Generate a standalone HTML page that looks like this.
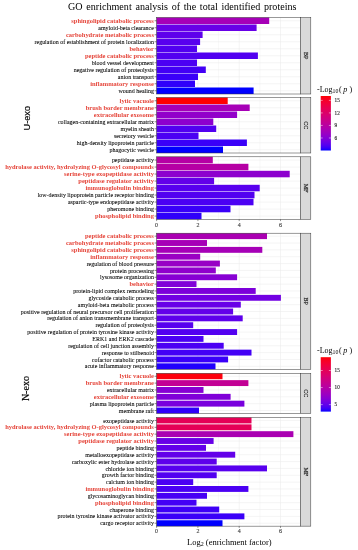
<!DOCTYPE html>
<html><head><meta charset="utf-8"><style>html,body{margin:0;padding:0;background:#fff;}
svg{display:block;will-change:transform;}
text{font-family:"Liberation Serif",serif;}
.lb{font-size:6.4px;fill:#000;stroke:#000;stroke-width:0.06px;text-anchor:end;}
.lr{font-size:6.7px;fill:#e5453a;font-weight:bold;text-anchor:end;}
.st{font-size:6px;fill:#1a1a1a;stroke:#1a1a1a;stroke-width:0.18px;}
.tk{font-size:6px;fill:#333;stroke:#333;stroke-width:0.1px;}
.ti{font-size:10.1px;fill:#000;word-spacing:1.2px;}
.ax{font-size:8.5px;fill:#000;}
.lt{font-size:8px;fill:#000;}
.lg{font-size:5.2px;fill:#222;stroke:#222;stroke-width:0.12px;}
.yu{font-family:"Liberation Sans",sans-serif;font-size:9.2px;fill:#000;stroke:#000;stroke-width:0.15px;}
.yn{font-size:10px;fill:#000;stroke:#000;stroke-width:0.2px;}
</style></head>
<body><svg width="358" height="550" viewBox="0 0 358 550">
<rect width="358" height="550" fill="#fff"/>
<defs><linearGradient id="g1" x1="0" y1="0" x2="0" y2="1"><stop offset="0.000" stop-color="#ff0000"/><stop offset="0.025" stop-color="#fc0012"/><stop offset="0.050" stop-color="#fa001e"/><stop offset="0.075" stop-color="#f70027"/><stop offset="0.100" stop-color="#f5002f"/><stop offset="0.125" stop-color="#f20037"/><stop offset="0.150" stop-color="#ef003e"/><stop offset="0.175" stop-color="#ec0045"/><stop offset="0.200" stop-color="#e9004c"/><stop offset="0.225" stop-color="#e70053"/><stop offset="0.250" stop-color="#e40059"/><stop offset="0.275" stop-color="#e00060"/><stop offset="0.300" stop-color="#dd0066"/><stop offset="0.325" stop-color="#da006c"/><stop offset="0.350" stop-color="#d70073"/><stop offset="0.375" stop-color="#d30079"/><stop offset="0.400" stop-color="#cf007f"/><stop offset="0.425" stop-color="#cc0085"/><stop offset="0.450" stop-color="#c8008b"/><stop offset="0.475" stop-color="#c40091"/><stop offset="0.500" stop-color="#c00097"/><stop offset="0.525" stop-color="#bb009d"/><stop offset="0.550" stop-color="#b700a3"/><stop offset="0.575" stop-color="#b200a9"/><stop offset="0.600" stop-color="#ad00af"/><stop offset="0.625" stop-color="#a800b5"/><stop offset="0.650" stop-color="#a200bb"/><stop offset="0.675" stop-color="#9d00c0"/><stop offset="0.700" stop-color="#9700c6"/><stop offset="0.725" stop-color="#9000cb"/><stop offset="0.750" stop-color="#8a00d1"/><stop offset="0.775" stop-color="#8200d6"/><stop offset="0.800" stop-color="#7b00dc"/><stop offset="0.825" stop-color="#7200e1"/><stop offset="0.850" stop-color="#6900e6"/><stop offset="0.875" stop-color="#5f00eb"/><stop offset="0.900" stop-color="#5400f0"/><stop offset="0.925" stop-color="#4700f4"/><stop offset="0.950" stop-color="#3800f8"/><stop offset="0.975" stop-color="#2300fc"/><stop offset="1.000" stop-color="#0000ff"/></linearGradient><linearGradient id="g2" x1="0" y1="0" x2="0" y2="1"><stop offset="0.000" stop-color="#ff0000"/><stop offset="0.025" stop-color="#fc0012"/><stop offset="0.050" stop-color="#fa001e"/><stop offset="0.075" stop-color="#f70027"/><stop offset="0.100" stop-color="#f5002f"/><stop offset="0.125" stop-color="#f20037"/><stop offset="0.150" stop-color="#ef003e"/><stop offset="0.175" stop-color="#ec0045"/><stop offset="0.200" stop-color="#e9004c"/><stop offset="0.225" stop-color="#e70053"/><stop offset="0.250" stop-color="#e40059"/><stop offset="0.275" stop-color="#e00060"/><stop offset="0.300" stop-color="#dd0066"/><stop offset="0.325" stop-color="#da006c"/><stop offset="0.350" stop-color="#d70073"/><stop offset="0.375" stop-color="#d30079"/><stop offset="0.400" stop-color="#cf007f"/><stop offset="0.425" stop-color="#cc0085"/><stop offset="0.450" stop-color="#c8008b"/><stop offset="0.475" stop-color="#c40091"/><stop offset="0.500" stop-color="#c00097"/><stop offset="0.525" stop-color="#bb009d"/><stop offset="0.550" stop-color="#b700a3"/><stop offset="0.575" stop-color="#b200a9"/><stop offset="0.600" stop-color="#ad00af"/><stop offset="0.625" stop-color="#a800b5"/><stop offset="0.650" stop-color="#a200bb"/><stop offset="0.675" stop-color="#9d00c0"/><stop offset="0.700" stop-color="#9700c6"/><stop offset="0.725" stop-color="#9000cb"/><stop offset="0.750" stop-color="#8a00d1"/><stop offset="0.775" stop-color="#8200d6"/><stop offset="0.800" stop-color="#7b00dc"/><stop offset="0.825" stop-color="#7200e1"/><stop offset="0.850" stop-color="#6900e6"/><stop offset="0.875" stop-color="#5f00eb"/><stop offset="0.900" stop-color="#5400f0"/><stop offset="0.925" stop-color="#4700f4"/><stop offset="0.950" stop-color="#3800f8"/><stop offset="0.975" stop-color="#2300fc"/><stop offset="1.000" stop-color="#0000ff"/></linearGradient></defs>
<text x="68" y="10.4" class="ti">GO enrichment analysis of the total identified proteins</text>
<rect x="156.6" y="17.5" width="143.7" height="76.5" fill="#fff"/>
<line x1="156.6" y1="17.5" x2="156.6" y2="94" stroke="#ebebeb" stroke-width="0.55"/>
<line x1="177.25" y1="17.5" x2="177.25" y2="94" stroke="#ebebeb" stroke-width="0.3"/>
<line x1="197.9" y1="17.5" x2="197.9" y2="94" stroke="#ebebeb" stroke-width="0.55"/>
<line x1="218.55" y1="17.5" x2="218.55" y2="94" stroke="#ebebeb" stroke-width="0.3"/>
<line x1="239.2" y1="17.5" x2="239.2" y2="94" stroke="#ebebeb" stroke-width="0.55"/>
<line x1="259.85" y1="17.5" x2="259.85" y2="94" stroke="#ebebeb" stroke-width="0.3"/>
<line x1="280.5" y1="17.5" x2="280.5" y2="94" stroke="#ebebeb" stroke-width="0.55"/>
<line x1="156.6" y1="20.75" x2="300.3" y2="20.75" stroke="#ebebeb" stroke-width="0.55"/>
<line x1="156.6" y1="27.75" x2="300.3" y2="27.75" stroke="#ebebeb" stroke-width="0.55"/>
<line x1="156.6" y1="34.75" x2="300.3" y2="34.75" stroke="#ebebeb" stroke-width="0.55"/>
<line x1="156.6" y1="41.75" x2="300.3" y2="41.75" stroke="#ebebeb" stroke-width="0.55"/>
<line x1="156.6" y1="48.75" x2="300.3" y2="48.75" stroke="#ebebeb" stroke-width="0.55"/>
<line x1="156.6" y1="55.75" x2="300.3" y2="55.75" stroke="#ebebeb" stroke-width="0.55"/>
<line x1="156.6" y1="62.75" x2="300.3" y2="62.75" stroke="#ebebeb" stroke-width="0.55"/>
<line x1="156.6" y1="69.75" x2="300.3" y2="69.75" stroke="#ebebeb" stroke-width="0.55"/>
<line x1="156.6" y1="76.75" x2="300.3" y2="76.75" stroke="#ebebeb" stroke-width="0.55"/>
<line x1="156.6" y1="83.75" x2="300.3" y2="83.75" stroke="#ebebeb" stroke-width="0.55"/>
<line x1="156.6" y1="90.75" x2="300.3" y2="90.75" stroke="#ebebeb" stroke-width="0.55"/>
<rect x="156.6" y="17.5" width="112.6" height="6.5" fill="#a600b7"/>
<rect x="156.6" y="24.5" width="100" height="6.5" fill="#6800e7"/>
<rect x="156.6" y="31.5" width="46" height="6.5" fill="#5e00eb"/>
<rect x="156.6" y="38.5" width="43.5" height="6.5" fill="#5800ee"/>
<rect x="156.6" y="45.5" width="40.4" height="6.5" fill="#5200f0"/>
<rect x="156.6" y="52.5" width="101.3" height="6.5" fill="#5200f0"/>
<rect x="156.6" y="59.5" width="40.4" height="6.5" fill="#4b00f3"/>
<rect x="156.6" y="66.5" width="49.2" height="6.5" fill="#4300f5"/>
<rect x="156.6" y="73.5" width="41.4" height="6.5" fill="#3a00f8"/>
<rect x="156.6" y="80.5" width="38.4" height="6.5" fill="#2f00fa"/>
<rect x="156.6" y="87.5" width="97" height="6.5" fill="#0000ff"/>
<rect x="156.6" y="17.5" width="143.7" height="76.5" fill="none" stroke="#333" stroke-width="0.5"/>
<rect x="300.3" y="17.5" width="10.5" height="76.5" fill="#d9d9d9" stroke="#333" stroke-width="0.5"/>
<text x="305.55" y="55.75" transform="rotate(90 305.55 55.75)" text-anchor="middle" dominant-baseline="central" class="st">BP</text>
<line x1="154.6" y1="20.75" x2="156.6" y2="20.75" stroke="#333" stroke-width="0.6"/>
<text x="153.9" y="22.85" class="lr" textLength="82.57" lengthAdjust="spacingAndGlyphs">sphingolipid catabolic process</text>
<line x1="154.6" y1="27.75" x2="156.6" y2="27.75" stroke="#333" stroke-width="0.6"/>
<text x="153.9" y="29.85" class="lb" textLength="55.61" lengthAdjust="spacingAndGlyphs">amyloid-beta clearance</text>
<line x1="154.6" y1="34.75" x2="156.6" y2="34.75" stroke="#333" stroke-width="0.6"/>
<text x="153.9" y="36.85" class="lr" textLength="87.93" lengthAdjust="spacingAndGlyphs">carbohydrate metabolic process</text>
<line x1="154.6" y1="41.75" x2="156.6" y2="41.75" stroke="#333" stroke-width="0.6"/>
<text x="153.9" y="43.85" class="lb" textLength="119.40" lengthAdjust="spacingAndGlyphs">regulation of establishment of protein localization</text>
<line x1="154.6" y1="48.75" x2="156.6" y2="48.75" stroke="#333" stroke-width="0.6"/>
<text x="153.9" y="50.85" class="lr" textLength="24.44" lengthAdjust="spacingAndGlyphs">behavior</text>
<line x1="154.6" y1="55.75" x2="156.6" y2="55.75" stroke="#333" stroke-width="0.6"/>
<text x="153.9" y="57.85" class="lr" textLength="68.89" lengthAdjust="spacingAndGlyphs">peptide catabolic process</text>
<line x1="154.6" y1="62.75" x2="156.6" y2="62.75" stroke="#333" stroke-width="0.6"/>
<text x="153.9" y="64.85" class="lb" textLength="62.11" lengthAdjust="spacingAndGlyphs">blood vessel development</text>
<line x1="154.6" y1="69.75" x2="156.6" y2="69.75" stroke="#333" stroke-width="0.6"/>
<text x="153.9" y="71.85" class="lb" textLength="80.21" lengthAdjust="spacingAndGlyphs">negative regulation of proteolysis</text>
<line x1="154.6" y1="76.75" x2="156.6" y2="76.75" stroke="#333" stroke-width="0.6"/>
<text x="153.9" y="78.85" class="lb" textLength="36.04" lengthAdjust="spacingAndGlyphs">anion transport</text>
<line x1="154.6" y1="83.75" x2="156.6" y2="83.75" stroke="#333" stroke-width="0.6"/>
<text x="153.9" y="85.85" class="lr" textLength="63.68" lengthAdjust="spacingAndGlyphs">inflammatory response</text>
<line x1="154.6" y1="90.75" x2="156.6" y2="90.75" stroke="#333" stroke-width="0.6"/>
<text x="153.9" y="92.85" class="lb" textLength="35.38" lengthAdjust="spacingAndGlyphs">wound healing</text>
<rect x="156.6" y="97.5" width="143.7" height="55.5" fill="#fff"/>
<line x1="156.6" y1="97.5" x2="156.6" y2="153" stroke="#ebebeb" stroke-width="0.55"/>
<line x1="177.25" y1="97.5" x2="177.25" y2="153" stroke="#ebebeb" stroke-width="0.3"/>
<line x1="197.9" y1="97.5" x2="197.9" y2="153" stroke="#ebebeb" stroke-width="0.55"/>
<line x1="218.55" y1="97.5" x2="218.55" y2="153" stroke="#ebebeb" stroke-width="0.3"/>
<line x1="239.2" y1="97.5" x2="239.2" y2="153" stroke="#ebebeb" stroke-width="0.55"/>
<line x1="259.85" y1="97.5" x2="259.85" y2="153" stroke="#ebebeb" stroke-width="0.3"/>
<line x1="280.5" y1="97.5" x2="280.5" y2="153" stroke="#ebebeb" stroke-width="0.55"/>
<line x1="156.6" y1="100.75" x2="300.3" y2="100.75" stroke="#ebebeb" stroke-width="0.55"/>
<line x1="156.6" y1="107.75" x2="300.3" y2="107.75" stroke="#ebebeb" stroke-width="0.55"/>
<line x1="156.6" y1="114.75" x2="300.3" y2="114.75" stroke="#ebebeb" stroke-width="0.55"/>
<line x1="156.6" y1="121.75" x2="300.3" y2="121.75" stroke="#ebebeb" stroke-width="0.55"/>
<line x1="156.6" y1="128.75" x2="300.3" y2="128.75" stroke="#ebebeb" stroke-width="0.55"/>
<line x1="156.6" y1="135.75" x2="300.3" y2="135.75" stroke="#ebebeb" stroke-width="0.55"/>
<line x1="156.6" y1="142.75" x2="300.3" y2="142.75" stroke="#ebebeb" stroke-width="0.55"/>
<line x1="156.6" y1="149.75" x2="300.3" y2="149.75" stroke="#ebebeb" stroke-width="0.55"/>
<rect x="156.6" y="97.5" width="71.1" height="6.5" fill="#ff0000"/>
<rect x="156.6" y="104.5" width="93.1" height="6.5" fill="#a600b7"/>
<rect x="156.6" y="111.5" width="80.5" height="6.5" fill="#9200ca"/>
<rect x="156.6" y="118.5" width="56.7" height="6.5" fill="#8d00ce"/>
<rect x="156.6" y="125.5" width="59.6" height="6.5" fill="#5200f0"/>
<rect x="156.6" y="132.5" width="41.9" height="6.5" fill="#4b00f3"/>
<rect x="156.6" y="139.5" width="90.3" height="6.5" fill="#3a00f8"/>
<rect x="156.6" y="146.5" width="66.4" height="6.5" fill="#0000ff"/>
<rect x="156.6" y="97.5" width="143.7" height="55.5" fill="none" stroke="#333" stroke-width="0.5"/>
<rect x="300.3" y="97.5" width="10.5" height="55.5" fill="#d9d9d9" stroke="#333" stroke-width="0.5"/>
<text x="305.55" y="125.25" transform="rotate(90 305.55 125.25)" text-anchor="middle" dominant-baseline="central" class="st">CC</text>
<line x1="154.6" y1="100.75" x2="156.6" y2="100.75" stroke="#333" stroke-width="0.6"/>
<text x="153.9" y="102.85" class="lr" textLength="34.32" lengthAdjust="spacingAndGlyphs">lytic vacuole</text>
<line x1="154.6" y1="107.75" x2="156.6" y2="107.75" stroke="#333" stroke-width="0.6"/>
<text x="153.9" y="109.85" class="lr" textLength="68.17" lengthAdjust="spacingAndGlyphs">brush border membrane</text>
<line x1="154.6" y1="114.75" x2="156.6" y2="114.75" stroke="#333" stroke-width="0.6"/>
<text x="153.9" y="116.85" class="lr" textLength="60.07" lengthAdjust="spacingAndGlyphs">extracellular exosome</text>
<line x1="154.6" y1="121.75" x2="156.6" y2="121.75" stroke="#333" stroke-width="0.6"/>
<text x="153.9" y="123.85" class="lb" textLength="95.97" lengthAdjust="spacingAndGlyphs">collagen-containing extracellular matrix</text>
<line x1="154.6" y1="128.75" x2="156.6" y2="128.75" stroke="#333" stroke-width="0.6"/>
<text x="153.9" y="130.85" class="lb" textLength="33.38" lengthAdjust="spacingAndGlyphs">myelin sheath</text>
<line x1="154.6" y1="135.75" x2="156.6" y2="135.75" stroke="#333" stroke-width="0.6"/>
<text x="153.9" y="137.85" class="lb" textLength="40.01" lengthAdjust="spacingAndGlyphs">secretory vesicle</text>
<line x1="154.6" y1="142.75" x2="156.6" y2="142.75" stroke="#333" stroke-width="0.6"/>
<text x="153.9" y="144.85" class="lb" textLength="77.06" lengthAdjust="spacingAndGlyphs">high-density lipoprotein particle</text>
<line x1="154.6" y1="149.75" x2="156.6" y2="149.75" stroke="#333" stroke-width="0.6"/>
<text x="153.9" y="151.85" class="lb" textLength="44.34" lengthAdjust="spacingAndGlyphs">phagocytic vesicle</text>
<rect x="156.6" y="156.8" width="143.7" height="62.5" fill="#fff"/>
<line x1="156.6" y1="156.8" x2="156.6" y2="219.3" stroke="#ebebeb" stroke-width="0.55"/>
<line x1="177.25" y1="156.8" x2="177.25" y2="219.3" stroke="#ebebeb" stroke-width="0.3"/>
<line x1="197.9" y1="156.8" x2="197.9" y2="219.3" stroke="#ebebeb" stroke-width="0.55"/>
<line x1="218.55" y1="156.8" x2="218.55" y2="219.3" stroke="#ebebeb" stroke-width="0.3"/>
<line x1="239.2" y1="156.8" x2="239.2" y2="219.3" stroke="#ebebeb" stroke-width="0.55"/>
<line x1="259.85" y1="156.8" x2="259.85" y2="219.3" stroke="#ebebeb" stroke-width="0.3"/>
<line x1="280.5" y1="156.8" x2="280.5" y2="219.3" stroke="#ebebeb" stroke-width="0.55"/>
<line x1="156.6" y1="160.05" x2="300.3" y2="160.05" stroke="#ebebeb" stroke-width="0.55"/>
<line x1="156.6" y1="167.05" x2="300.3" y2="167.05" stroke="#ebebeb" stroke-width="0.55"/>
<line x1="156.6" y1="174.05" x2="300.3" y2="174.05" stroke="#ebebeb" stroke-width="0.55"/>
<line x1="156.6" y1="181.05" x2="300.3" y2="181.05" stroke="#ebebeb" stroke-width="0.55"/>
<line x1="156.6" y1="188.05" x2="300.3" y2="188.05" stroke="#ebebeb" stroke-width="0.55"/>
<line x1="156.6" y1="195.05" x2="300.3" y2="195.05" stroke="#ebebeb" stroke-width="0.55"/>
<line x1="156.6" y1="202.05" x2="300.3" y2="202.05" stroke="#ebebeb" stroke-width="0.55"/>
<line x1="156.6" y1="209.05" x2="300.3" y2="209.05" stroke="#ebebeb" stroke-width="0.55"/>
<line x1="156.6" y1="216.05" x2="300.3" y2="216.05" stroke="#ebebeb" stroke-width="0.55"/>
<rect x="156.6" y="156.8" width="56.2" height="6.5" fill="#b600a4"/>
<rect x="156.6" y="163.8" width="91.8" height="6.5" fill="#b600a4"/>
<rect x="156.6" y="170.8" width="133.1" height="6.5" fill="#8d00ce"/>
<rect x="156.6" y="177.8" width="57.5" height="6.5" fill="#6300e9"/>
<rect x="156.6" y="184.8" width="103.1" height="6.5" fill="#5800ee"/>
<rect x="156.6" y="191.8" width="97.9" height="6.5" fill="#5200f0"/>
<rect x="156.6" y="198.8" width="96.9" height="6.5" fill="#4b00f3"/>
<rect x="156.6" y="205.8" width="73.9" height="6.5" fill="#3a00f8"/>
<rect x="156.6" y="212.8" width="44.9" height="6.5" fill="#2f00fa"/>
<rect x="156.6" y="156.8" width="143.7" height="62.5" fill="none" stroke="#333" stroke-width="0.5"/>
<rect x="300.3" y="156.8" width="10.5" height="62.5" fill="#d9d9d9" stroke="#333" stroke-width="0.5"/>
<text x="305.55" y="188.05" transform="rotate(90 305.55 188.05)" text-anchor="middle" dominant-baseline="central" class="st">MF</text>
<line x1="154.6" y1="160.05" x2="156.6" y2="160.05" stroke="#333" stroke-width="0.6"/>
<text x="153.9" y="162.15" class="lb" textLength="42.01" lengthAdjust="spacingAndGlyphs">peptidase activity</text>
<line x1="154.6" y1="167.05" x2="156.6" y2="167.05" stroke="#333" stroke-width="0.6"/>
<text x="153.9" y="169.15" class="lr" textLength="148.76" lengthAdjust="spacingAndGlyphs">hydrolase activity, hydrolyzing O-glycosyl compounds</text>
<line x1="154.6" y1="174.05" x2="156.6" y2="174.05" stroke="#333" stroke-width="0.6"/>
<text x="153.9" y="176.15" class="lr" textLength="89.84" lengthAdjust="spacingAndGlyphs">serine-type exopeptidase activity</text>
<line x1="154.6" y1="181.05" x2="156.6" y2="181.05" stroke="#333" stroke-width="0.6"/>
<text x="153.9" y="183.15" class="lr" textLength="75.59" lengthAdjust="spacingAndGlyphs">peptidase regulator activity</text>
<line x1="154.6" y1="188.05" x2="156.6" y2="188.05" stroke="#333" stroke-width="0.6"/>
<text x="153.9" y="190.15" class="lr" textLength="68.50" lengthAdjust="spacingAndGlyphs">immunoglobulin binding</text>
<line x1="154.6" y1="195.05" x2="156.6" y2="195.05" stroke="#333" stroke-width="0.6"/>
<text x="153.9" y="197.15" class="lb" textLength="116.25" lengthAdjust="spacingAndGlyphs">low-density lipoprotein particle receptor binding</text>
<line x1="154.6" y1="202.05" x2="156.6" y2="202.05" stroke="#333" stroke-width="0.6"/>
<text x="153.9" y="204.15" class="lb" textLength="86.01" lengthAdjust="spacingAndGlyphs">aspartic-type endopeptidase activity</text>
<line x1="154.6" y1="209.05" x2="156.6" y2="209.05" stroke="#333" stroke-width="0.6"/>
<text x="153.9" y="211.15" class="lb" textLength="46.67" lengthAdjust="spacingAndGlyphs">pheromone binding</text>
<line x1="154.6" y1="216.05" x2="156.6" y2="216.05" stroke="#333" stroke-width="0.6"/>
<text x="153.9" y="218.15" class="lr" textLength="58.81" lengthAdjust="spacingAndGlyphs">phospholipid binding</text>
<line x1="156.6" y1="219.3" x2="156.6" y2="221.1" stroke="#333" stroke-width="0.5"/>
<text x="156.6" y="226.8" class="tk" text-anchor="middle">0</text>
<line x1="197.9" y1="219.3" x2="197.9" y2="221.1" stroke="#333" stroke-width="0.5"/>
<text x="197.9" y="226.8" class="tk" text-anchor="middle">2</text>
<line x1="239.2" y1="219.3" x2="239.2" y2="221.1" stroke="#333" stroke-width="0.5"/>
<text x="239.2" y="226.8" class="tk" text-anchor="middle">4</text>
<line x1="280.5" y1="219.3" x2="280.5" y2="221.1" stroke="#333" stroke-width="0.5"/>
<text x="280.5" y="226.8" class="tk" text-anchor="middle">6</text>
<rect x="156.6" y="233.2" width="143.7" height="136.05" fill="#fff"/>
<line x1="156.6" y1="233.2" x2="156.6" y2="369.25" stroke="#ebebeb" stroke-width="0.55"/>
<line x1="177.25" y1="233.2" x2="177.25" y2="369.25" stroke="#ebebeb" stroke-width="0.3"/>
<line x1="197.9" y1="233.2" x2="197.9" y2="369.25" stroke="#ebebeb" stroke-width="0.55"/>
<line x1="218.55" y1="233.2" x2="218.55" y2="369.25" stroke="#ebebeb" stroke-width="0.3"/>
<line x1="239.2" y1="233.2" x2="239.2" y2="369.25" stroke="#ebebeb" stroke-width="0.55"/>
<line x1="259.85" y1="233.2" x2="259.85" y2="369.25" stroke="#ebebeb" stroke-width="0.3"/>
<line x1="280.5" y1="233.2" x2="280.5" y2="369.25" stroke="#ebebeb" stroke-width="0.55"/>
<line x1="156.6" y1="236.15" x2="300.3" y2="236.15" stroke="#ebebeb" stroke-width="0.55"/>
<line x1="156.6" y1="243" x2="300.3" y2="243" stroke="#ebebeb" stroke-width="0.55"/>
<line x1="156.6" y1="249.85" x2="300.3" y2="249.85" stroke="#ebebeb" stroke-width="0.55"/>
<line x1="156.6" y1="256.7" x2="300.3" y2="256.7" stroke="#ebebeb" stroke-width="0.55"/>
<line x1="156.6" y1="263.55" x2="300.3" y2="263.55" stroke="#ebebeb" stroke-width="0.55"/>
<line x1="156.6" y1="270.4" x2="300.3" y2="270.4" stroke="#ebebeb" stroke-width="0.55"/>
<line x1="156.6" y1="277.25" x2="300.3" y2="277.25" stroke="#ebebeb" stroke-width="0.55"/>
<line x1="156.6" y1="284.1" x2="300.3" y2="284.1" stroke="#ebebeb" stroke-width="0.55"/>
<line x1="156.6" y1="290.95" x2="300.3" y2="290.95" stroke="#ebebeb" stroke-width="0.55"/>
<line x1="156.6" y1="297.8" x2="300.3" y2="297.8" stroke="#ebebeb" stroke-width="0.55"/>
<line x1="156.6" y1="304.65" x2="300.3" y2="304.65" stroke="#ebebeb" stroke-width="0.55"/>
<line x1="156.6" y1="311.5" x2="300.3" y2="311.5" stroke="#ebebeb" stroke-width="0.55"/>
<line x1="156.6" y1="318.35" x2="300.3" y2="318.35" stroke="#ebebeb" stroke-width="0.55"/>
<line x1="156.6" y1="325.2" x2="300.3" y2="325.2" stroke="#ebebeb" stroke-width="0.55"/>
<line x1="156.6" y1="332.05" x2="300.3" y2="332.05" stroke="#ebebeb" stroke-width="0.55"/>
<line x1="156.6" y1="338.9" x2="300.3" y2="338.9" stroke="#ebebeb" stroke-width="0.55"/>
<line x1="156.6" y1="345.75" x2="300.3" y2="345.75" stroke="#ebebeb" stroke-width="0.55"/>
<line x1="156.6" y1="352.6" x2="300.3" y2="352.6" stroke="#ebebeb" stroke-width="0.55"/>
<line x1="156.6" y1="359.45" x2="300.3" y2="359.45" stroke="#ebebeb" stroke-width="0.55"/>
<line x1="156.6" y1="366.3" x2="300.3" y2="366.3" stroke="#ebebeb" stroke-width="0.55"/>
<rect x="156.6" y="233.2" width="110.4" height="5.9" fill="#aa00b2"/>
<rect x="156.6" y="240.05" width="50.4" height="5.9" fill="#a600b7"/>
<rect x="156.6" y="246.9" width="105.7" height="5.9" fill="#a600b7"/>
<rect x="156.6" y="253.75" width="43.6" height="5.9" fill="#9a00c3"/>
<rect x="156.6" y="260.6" width="63.3" height="5.9" fill="#9800c5"/>
<rect x="156.6" y="267.45" width="59.2" height="5.9" fill="#9000cc"/>
<rect x="156.6" y="274.3" width="80.5" height="5.9" fill="#8700d3"/>
<rect x="156.6" y="281.15" width="39.9" height="5.9" fill="#8000d8"/>
<rect x="156.6" y="288" width="99.1" height="5.9" fill="#7c00da"/>
<rect x="156.6" y="294.85" width="124.3" height="5.9" fill="#7100e2"/>
<rect x="156.6" y="301.7" width="84.2" height="5.9" fill="#6800e7"/>
<rect x="156.6" y="308.55" width="76.5" height="5.9" fill="#6300e9"/>
<rect x="156.6" y="315.4" width="86.1" height="5.9" fill="#5e00eb"/>
<rect x="156.6" y="322.25" width="36.6" height="5.9" fill="#5800ee"/>
<rect x="156.6" y="329.1" width="80.5" height="5.9" fill="#5200f0"/>
<rect x="156.6" y="335.95" width="46.9" height="5.9" fill="#4b00f3"/>
<rect x="156.6" y="342.8" width="67.1" height="5.9" fill="#4b00f3"/>
<rect x="156.6" y="349.65" width="94.9" height="5.9" fill="#4300f5"/>
<rect x="156.6" y="356.5" width="71.5" height="5.9" fill="#3a00f8"/>
<rect x="156.6" y="363.35" width="58.9" height="5.9" fill="#2000fd"/>
<rect x="156.6" y="233.2" width="143.7" height="136.05" fill="none" stroke="#333" stroke-width="0.5"/>
<rect x="300.3" y="233.2" width="10.5" height="136.05" fill="#d9d9d9" stroke="#333" stroke-width="0.5"/>
<text x="305.55" y="301.23" transform="rotate(90 305.55 301.23)" text-anchor="middle" dominant-baseline="central" class="st">BP</text>
<line x1="154.6" y1="236.15" x2="156.6" y2="236.15" stroke="#333" stroke-width="0.6"/>
<text x="153.9" y="238.25" class="lr" textLength="68.89" lengthAdjust="spacingAndGlyphs">peptide catabolic process</text>
<line x1="154.6" y1="243" x2="156.6" y2="243" stroke="#333" stroke-width="0.6"/>
<text x="153.9" y="245.1" class="lr" textLength="87.93" lengthAdjust="spacingAndGlyphs">carbohydrate metabolic process</text>
<line x1="154.6" y1="249.85" x2="156.6" y2="249.85" stroke="#333" stroke-width="0.6"/>
<text x="153.9" y="251.95" class="lr" textLength="82.57" lengthAdjust="spacingAndGlyphs">sphingolipid catabolic process</text>
<line x1="154.6" y1="256.7" x2="156.6" y2="256.7" stroke="#333" stroke-width="0.6"/>
<text x="153.9" y="258.8" class="lr" textLength="63.68" lengthAdjust="spacingAndGlyphs">inflammatory response</text>
<line x1="154.6" y1="263.55" x2="156.6" y2="263.55" stroke="#333" stroke-width="0.6"/>
<text x="153.9" y="265.65" class="lb" textLength="67.26" lengthAdjust="spacingAndGlyphs">regulation of blood pressure</text>
<line x1="154.6" y1="270.4" x2="156.6" y2="270.4" stroke="#333" stroke-width="0.6"/>
<text x="153.9" y="272.5" class="lb" textLength="44.01" lengthAdjust="spacingAndGlyphs">protein processing</text>
<line x1="154.6" y1="277.25" x2="156.6" y2="277.25" stroke="#333" stroke-width="0.6"/>
<text x="153.9" y="279.35" class="lb" textLength="53.87" lengthAdjust="spacingAndGlyphs">lysosome organization</text>
<line x1="154.6" y1="284.1" x2="156.6" y2="284.1" stroke="#333" stroke-width="0.6"/>
<text x="153.9" y="286.2" class="lr" textLength="24.44" lengthAdjust="spacingAndGlyphs">behavior</text>
<line x1="154.6" y1="290.95" x2="156.6" y2="290.95" stroke="#333" stroke-width="0.6"/>
<text x="153.9" y="293.05" class="lb" textLength="80.71" lengthAdjust="spacingAndGlyphs">protein-lipid complex remodeling</text>
<line x1="154.6" y1="297.8" x2="156.6" y2="297.8" stroke="#333" stroke-width="0.6"/>
<text x="153.9" y="299.9" class="lb" textLength="65.43" lengthAdjust="spacingAndGlyphs">glycoside catabolic process</text>
<line x1="154.6" y1="304.65" x2="156.6" y2="304.65" stroke="#333" stroke-width="0.6"/>
<text x="153.9" y="306.75" class="lb" textLength="76.05" lengthAdjust="spacingAndGlyphs">amyloid-beta metabolic process</text>
<line x1="154.6" y1="311.5" x2="156.6" y2="311.5" stroke="#333" stroke-width="0.6"/>
<text x="153.9" y="313.6" class="lb" textLength="133.17" lengthAdjust="spacingAndGlyphs">positive regulation of neural precursor cell proliferation</text>
<line x1="154.6" y1="318.35" x2="156.6" y2="318.35" stroke="#333" stroke-width="0.6"/>
<text x="153.9" y="320.45" class="lb" textLength="106.61" lengthAdjust="spacingAndGlyphs">regulation of anion transmembrane transport</text>
<line x1="154.6" y1="325.2" x2="156.6" y2="325.2" stroke="#333" stroke-width="0.6"/>
<text x="153.9" y="327.3" class="lb" textLength="58.46" lengthAdjust="spacingAndGlyphs">regulation of proteolysis</text>
<line x1="154.6" y1="332.05" x2="156.6" y2="332.05" stroke="#333" stroke-width="0.6"/>
<text x="153.9" y="334.15" class="lb" textLength="126.55" lengthAdjust="spacingAndGlyphs">positive regulation of protein tyrosine kinase activity</text>
<line x1="154.6" y1="338.9" x2="156.6" y2="338.9" stroke="#333" stroke-width="0.6"/>
<text x="153.9" y="341" class="lb" textLength="61.61" lengthAdjust="spacingAndGlyphs">ERK1 and ERK2 cascade</text>
<line x1="154.6" y1="345.75" x2="156.6" y2="345.75" stroke="#333" stroke-width="0.6"/>
<text x="153.9" y="347.85" class="lb" textLength="85.69" lengthAdjust="spacingAndGlyphs">regulation of cell junction assembly</text>
<line x1="154.6" y1="352.6" x2="156.6" y2="352.6" stroke="#333" stroke-width="0.6"/>
<text x="153.9" y="354.7" class="lb" textLength="52.15" lengthAdjust="spacingAndGlyphs">response to stilbenoid</text>
<line x1="154.6" y1="359.45" x2="156.6" y2="359.45" stroke="#333" stroke-width="0.6"/>
<text x="153.9" y="361.55" class="lb" textLength="62.09" lengthAdjust="spacingAndGlyphs">cofactor catabolic process</text>
<line x1="154.6" y1="366.3" x2="156.6" y2="366.3" stroke="#333" stroke-width="0.6"/>
<text x="153.9" y="368.4" class="lb" textLength="69.08" lengthAdjust="spacingAndGlyphs">acute inflammatory response</text>
<rect x="156.6" y="373.3" width="143.7" height="40.15" fill="#fff"/>
<line x1="156.6" y1="373.3" x2="156.6" y2="413.45" stroke="#ebebeb" stroke-width="0.55"/>
<line x1="177.25" y1="373.3" x2="177.25" y2="413.45" stroke="#ebebeb" stroke-width="0.3"/>
<line x1="197.9" y1="373.3" x2="197.9" y2="413.45" stroke="#ebebeb" stroke-width="0.55"/>
<line x1="218.55" y1="373.3" x2="218.55" y2="413.45" stroke="#ebebeb" stroke-width="0.3"/>
<line x1="239.2" y1="373.3" x2="239.2" y2="413.45" stroke="#ebebeb" stroke-width="0.55"/>
<line x1="259.85" y1="373.3" x2="259.85" y2="413.45" stroke="#ebebeb" stroke-width="0.3"/>
<line x1="280.5" y1="373.3" x2="280.5" y2="413.45" stroke="#ebebeb" stroke-width="0.55"/>
<line x1="156.6" y1="376.25" x2="300.3" y2="376.25" stroke="#ebebeb" stroke-width="0.55"/>
<line x1="156.6" y1="383.1" x2="300.3" y2="383.1" stroke="#ebebeb" stroke-width="0.55"/>
<line x1="156.6" y1="389.95" x2="300.3" y2="389.95" stroke="#ebebeb" stroke-width="0.55"/>
<line x1="156.6" y1="396.8" x2="300.3" y2="396.8" stroke="#ebebeb" stroke-width="0.55"/>
<line x1="156.6" y1="403.65" x2="300.3" y2="403.65" stroke="#ebebeb" stroke-width="0.55"/>
<line x1="156.6" y1="410.5" x2="300.3" y2="410.5" stroke="#ebebeb" stroke-width="0.55"/>
<rect x="156.6" y="373.3" width="65.9" height="5.9" fill="#fd000d"/>
<rect x="156.6" y="380.15" width="91.8" height="5.9" fill="#c20094"/>
<rect x="156.6" y="387" width="46.9" height="5.9" fill="#8700d3"/>
<rect x="156.6" y="393.85" width="74" height="5.9" fill="#8000d8"/>
<rect x="156.6" y="400.7" width="87.8" height="5.9" fill="#7900dd"/>
<rect x="156.6" y="407.55" width="42.4" height="5.9" fill="#2f00fa"/>
<rect x="156.6" y="373.3" width="143.7" height="40.15" fill="none" stroke="#333" stroke-width="0.5"/>
<rect x="300.3" y="373.3" width="10.5" height="40.15" fill="#d9d9d9" stroke="#333" stroke-width="0.5"/>
<text x="305.55" y="393.38" transform="rotate(90 305.55 393.38)" text-anchor="middle" dominant-baseline="central" class="st">CC</text>
<line x1="154.6" y1="376.25" x2="156.6" y2="376.25" stroke="#333" stroke-width="0.6"/>
<text x="153.9" y="378.35" class="lr" textLength="34.32" lengthAdjust="spacingAndGlyphs">lytic vacuole</text>
<line x1="154.6" y1="383.1" x2="156.6" y2="383.1" stroke="#333" stroke-width="0.6"/>
<text x="153.9" y="385.2" class="lr" textLength="68.17" lengthAdjust="spacingAndGlyphs">brush border membrane</text>
<line x1="154.6" y1="389.95" x2="156.6" y2="389.95" stroke="#333" stroke-width="0.6"/>
<text x="153.9" y="392.05" class="lb" textLength="46.99" lengthAdjust="spacingAndGlyphs">extracellular matrix</text>
<line x1="154.6" y1="396.8" x2="156.6" y2="396.8" stroke="#333" stroke-width="0.6"/>
<text x="153.9" y="398.9" class="lr" textLength="60.07" lengthAdjust="spacingAndGlyphs">extracellular exosome</text>
<line x1="154.6" y1="403.65" x2="156.6" y2="403.65" stroke="#333" stroke-width="0.6"/>
<text x="153.9" y="405.75" class="lb" textLength="64.10" lengthAdjust="spacingAndGlyphs">plasma lipoprotein particle</text>
<line x1="154.6" y1="410.5" x2="156.6" y2="410.5" stroke="#333" stroke-width="0.6"/>
<text x="153.9" y="412.6" class="lb" textLength="35.03" lengthAdjust="spacingAndGlyphs">membrane raft</text>
<rect x="156.6" y="417.5" width="143.7" height="108.65" fill="#fff"/>
<line x1="156.6" y1="417.5" x2="156.6" y2="526.15" stroke="#ebebeb" stroke-width="0.55"/>
<line x1="177.25" y1="417.5" x2="177.25" y2="526.15" stroke="#ebebeb" stroke-width="0.3"/>
<line x1="197.9" y1="417.5" x2="197.9" y2="526.15" stroke="#ebebeb" stroke-width="0.55"/>
<line x1="218.55" y1="417.5" x2="218.55" y2="526.15" stroke="#ebebeb" stroke-width="0.3"/>
<line x1="239.2" y1="417.5" x2="239.2" y2="526.15" stroke="#ebebeb" stroke-width="0.55"/>
<line x1="259.85" y1="417.5" x2="259.85" y2="526.15" stroke="#ebebeb" stroke-width="0.3"/>
<line x1="280.5" y1="417.5" x2="280.5" y2="526.15" stroke="#ebebeb" stroke-width="0.55"/>
<line x1="156.6" y1="420.45" x2="300.3" y2="420.45" stroke="#ebebeb" stroke-width="0.55"/>
<line x1="156.6" y1="427.3" x2="300.3" y2="427.3" stroke="#ebebeb" stroke-width="0.55"/>
<line x1="156.6" y1="434.15" x2="300.3" y2="434.15" stroke="#ebebeb" stroke-width="0.55"/>
<line x1="156.6" y1="441" x2="300.3" y2="441" stroke="#ebebeb" stroke-width="0.55"/>
<line x1="156.6" y1="447.85" x2="300.3" y2="447.85" stroke="#ebebeb" stroke-width="0.55"/>
<line x1="156.6" y1="454.7" x2="300.3" y2="454.7" stroke="#ebebeb" stroke-width="0.55"/>
<line x1="156.6" y1="461.55" x2="300.3" y2="461.55" stroke="#ebebeb" stroke-width="0.55"/>
<line x1="156.6" y1="468.4" x2="300.3" y2="468.4" stroke="#ebebeb" stroke-width="0.55"/>
<line x1="156.6" y1="475.25" x2="300.3" y2="475.25" stroke="#ebebeb" stroke-width="0.55"/>
<line x1="156.6" y1="482.1" x2="300.3" y2="482.1" stroke="#ebebeb" stroke-width="0.55"/>
<line x1="156.6" y1="488.95" x2="300.3" y2="488.95" stroke="#ebebeb" stroke-width="0.55"/>
<line x1="156.6" y1="495.8" x2="300.3" y2="495.8" stroke="#ebebeb" stroke-width="0.55"/>
<line x1="156.6" y1="502.65" x2="300.3" y2="502.65" stroke="#ebebeb" stroke-width="0.55"/>
<line x1="156.6" y1="509.5" x2="300.3" y2="509.5" stroke="#ebebeb" stroke-width="0.55"/>
<line x1="156.6" y1="516.35" x2="300.3" y2="516.35" stroke="#ebebeb" stroke-width="0.55"/>
<line x1="156.6" y1="523.2" x2="300.3" y2="523.2" stroke="#ebebeb" stroke-width="0.55"/>
<rect x="156.6" y="417.5" width="94.9" height="5.9" fill="#e50056"/>
<rect x="156.6" y="424.35" width="94.9" height="5.9" fill="#e50056"/>
<rect x="156.6" y="431.2" width="136.8" height="5.9" fill="#aa00b2"/>
<rect x="156.6" y="438.05" width="57" height="5.9" fill="#6800e7"/>
<rect x="156.6" y="444.9" width="49.4" height="5.9" fill="#6300e9"/>
<rect x="156.6" y="451.75" width="78.6" height="5.9" fill="#6300e9"/>
<rect x="156.6" y="458.6" width="60.1" height="5.9" fill="#5e00eb"/>
<rect x="156.6" y="465.45" width="110.4" height="5.9" fill="#5800ee"/>
<rect x="156.6" y="472.3" width="60.1" height="5.9" fill="#5200f0"/>
<rect x="156.6" y="479.15" width="36.6" height="5.9" fill="#4b00f3"/>
<rect x="156.6" y="486" width="91.8" height="5.9" fill="#4b00f3"/>
<rect x="156.6" y="492.85" width="50.4" height="5.9" fill="#4700f4"/>
<rect x="156.6" y="499.7" width="39.9" height="5.9" fill="#4300f5"/>
<rect x="156.6" y="506.55" width="62.6" height="5.9" fill="#3f00f6"/>
<rect x="156.6" y="513.4" width="87.8" height="5.9" fill="#3a00f8"/>
<rect x="156.6" y="520.25" width="65.9" height="5.9" fill="#0000ff"/>
<rect x="156.6" y="417.5" width="143.7" height="108.65" fill="none" stroke="#333" stroke-width="0.5"/>
<rect x="300.3" y="417.5" width="10.5" height="108.65" fill="#d9d9d9" stroke="#333" stroke-width="0.5"/>
<text x="305.55" y="471.82" transform="rotate(90 305.55 471.82)" text-anchor="middle" dominant-baseline="central" class="st">MF</text>
<line x1="154.6" y1="420.45" x2="156.6" y2="420.45" stroke="#333" stroke-width="0.6"/>
<text x="153.9" y="422.55" class="lb" textLength="50.65" lengthAdjust="spacingAndGlyphs">exopeptidase activity</text>
<line x1="154.6" y1="427.3" x2="156.6" y2="427.3" stroke="#333" stroke-width="0.6"/>
<text x="153.9" y="429.4" class="lr" textLength="148.76" lengthAdjust="spacingAndGlyphs">hydrolase activity, hydrolyzing O-glycosyl compounds</text>
<line x1="154.6" y1="434.15" x2="156.6" y2="434.15" stroke="#333" stroke-width="0.6"/>
<text x="153.9" y="436.25" class="lr" textLength="89.84" lengthAdjust="spacingAndGlyphs">serine-type exopeptidase activity</text>
<line x1="154.6" y1="441" x2="156.6" y2="441" stroke="#333" stroke-width="0.6"/>
<text x="153.9" y="443.1" class="lr" textLength="75.59" lengthAdjust="spacingAndGlyphs">peptidase regulator activity</text>
<line x1="154.6" y1="447.85" x2="156.6" y2="447.85" stroke="#333" stroke-width="0.6"/>
<text x="153.9" y="449.95" class="lb" textLength="37.37" lengthAdjust="spacingAndGlyphs">peptide binding</text>
<line x1="154.6" y1="454.7" x2="156.6" y2="454.7" stroke="#333" stroke-width="0.6"/>
<text x="153.9" y="456.8" class="lb" textLength="68.58" lengthAdjust="spacingAndGlyphs">metalloexopeptidase activity</text>
<line x1="154.6" y1="461.55" x2="156.6" y2="461.55" stroke="#333" stroke-width="0.6"/>
<text x="153.9" y="463.65" class="lb" textLength="82.20" lengthAdjust="spacingAndGlyphs">carboxylic ester hydrolase activity</text>
<line x1="154.6" y1="468.4" x2="156.6" y2="468.4" stroke="#333" stroke-width="0.6"/>
<text x="153.9" y="470.5" class="lb" textLength="48.50" lengthAdjust="spacingAndGlyphs">chloride ion binding</text>
<line x1="154.6" y1="475.25" x2="156.6" y2="475.25" stroke="#333" stroke-width="0.6"/>
<text x="153.9" y="477.35" class="lb" textLength="52.15" lengthAdjust="spacingAndGlyphs">growth factor binding</text>
<line x1="154.6" y1="482.1" x2="156.6" y2="482.1" stroke="#333" stroke-width="0.6"/>
<text x="153.9" y="484.2" class="lb" textLength="47.83" lengthAdjust="spacingAndGlyphs">calcium ion binding</text>
<line x1="154.6" y1="488.95" x2="156.6" y2="488.95" stroke="#333" stroke-width="0.6"/>
<text x="153.9" y="491.05" class="lr" textLength="68.50" lengthAdjust="spacingAndGlyphs">immunoglobulin binding</text>
<line x1="154.6" y1="495.8" x2="156.6" y2="495.8" stroke="#333" stroke-width="0.6"/>
<text x="153.9" y="497.9" class="lb" textLength="66.27" lengthAdjust="spacingAndGlyphs">glycosaminoglycan binding</text>
<line x1="154.6" y1="502.65" x2="156.6" y2="502.65" stroke="#333" stroke-width="0.6"/>
<text x="153.9" y="504.75" class="lr" textLength="58.81" lengthAdjust="spacingAndGlyphs">phospholipid binding</text>
<line x1="154.6" y1="509.5" x2="156.6" y2="509.5" stroke="#333" stroke-width="0.6"/>
<text x="153.9" y="511.6" class="lb" textLength="44.34" lengthAdjust="spacingAndGlyphs">chaperone binding</text>
<line x1="154.6" y1="516.35" x2="156.6" y2="516.35" stroke="#333" stroke-width="0.6"/>
<text x="153.9" y="518.45" class="lb" textLength="96.32" lengthAdjust="spacingAndGlyphs">protein tyrosine kinase activator activity</text>
<line x1="154.6" y1="523.2" x2="156.6" y2="523.2" stroke="#333" stroke-width="0.6"/>
<text x="153.9" y="525.3" class="lb" textLength="53.68" lengthAdjust="spacingAndGlyphs">cargo receptor activity</text>
<line x1="156.6" y1="526.15" x2="156.6" y2="527.95" stroke="#333" stroke-width="0.5"/>
<text x="156.6" y="533.3" class="tk" text-anchor="middle">0</text>
<line x1="197.9" y1="526.15" x2="197.9" y2="527.95" stroke="#333" stroke-width="0.5"/>
<text x="197.9" y="533.3" class="tk" text-anchor="middle">2</text>
<line x1="239.2" y1="526.15" x2="239.2" y2="527.95" stroke="#333" stroke-width="0.5"/>
<text x="239.2" y="533.3" class="tk" text-anchor="middle">4</text>
<line x1="280.5" y1="526.15" x2="280.5" y2="527.95" stroke="#333" stroke-width="0.5"/>
<text x="280.5" y="533.3" class="tk" text-anchor="middle">6</text>
<text x="187" y="544.8" class="ax">Log<tspan dy="1.5" font-size="6">2</tspan><tspan dy="-1.5"> (enrichment factor)</tspan></text>
<text x="0" y="0" transform="translate(29.8 118.2) rotate(-90)" text-anchor="middle" class="yu">U-exo</text>
<text x="0" y="0" transform="translate(29.2 388.6) rotate(-90)" text-anchor="middle" class="yn">N-exo</text>
<text x="317" y="92" class="lt">-Log<tspan dy="1.3" font-size="5.8">10</tspan><tspan dy="-1.3" dx="0.6">(</tspan><tspan font-style="italic" dx="1.6">p</tspan><tspan dx="2.2">)</tspan></text>
<rect x="320.7" y="96" width="10.2" height="54.5" fill="url(#g1)"/>
<line x1="320.7" y1="100.39" x2="322.7" y2="100.39" stroke="#fff" stroke-width="0.5"/>
<line x1="328.9" y1="100.39" x2="330.9" y2="100.39" stroke="#fff" stroke-width="0.5"/>
<text x="334.6" y="102.09" class="lg">15</text>
<line x1="320.7" y1="112.91" x2="322.7" y2="112.91" stroke="#fff" stroke-width="0.5"/>
<line x1="328.9" y1="112.91" x2="330.9" y2="112.91" stroke="#fff" stroke-width="0.5"/>
<text x="334.6" y="114.61" class="lg">12</text>
<line x1="320.7" y1="125.44" x2="322.7" y2="125.44" stroke="#fff" stroke-width="0.5"/>
<line x1="328.9" y1="125.44" x2="330.9" y2="125.44" stroke="#fff" stroke-width="0.5"/>
<text x="334.6" y="127.14" class="lg">9</text>
<line x1="320.7" y1="137.97" x2="322.7" y2="137.97" stroke="#fff" stroke-width="0.5"/>
<line x1="328.9" y1="137.97" x2="330.9" y2="137.97" stroke="#fff" stroke-width="0.5"/>
<text x="334.6" y="139.67" class="lg">6</text>
<text x="317" y="352.7" class="lt">-Log<tspan dy="1.3" font-size="5.8">10</tspan><tspan dy="-1.3" dx="0.6">(</tspan><tspan font-style="italic" dx="1.6">p</tspan><tspan dx="2.2">)</tspan></text>
<rect x="320.7" y="357.2" width="10.2" height="54.4" fill="url(#g2)"/>
<line x1="320.7" y1="370.5" x2="322.7" y2="370.5" stroke="#fff" stroke-width="0.5"/>
<line x1="328.9" y1="370.5" x2="330.9" y2="370.5" stroke="#fff" stroke-width="0.5"/>
<text x="334.6" y="372.2" class="lg">15</text>
<line x1="320.7" y1="387.55" x2="322.7" y2="387.55" stroke="#fff" stroke-width="0.5"/>
<line x1="328.9" y1="387.55" x2="330.9" y2="387.55" stroke="#fff" stroke-width="0.5"/>
<text x="334.6" y="389.25" class="lg">10</text>
<line x1="320.7" y1="404.61" x2="322.7" y2="404.61" stroke="#fff" stroke-width="0.5"/>
<line x1="328.9" y1="404.61" x2="330.9" y2="404.61" stroke="#fff" stroke-width="0.5"/>
<text x="334.6" y="406.31" class="lg">5</text>
</svg></body></html>
